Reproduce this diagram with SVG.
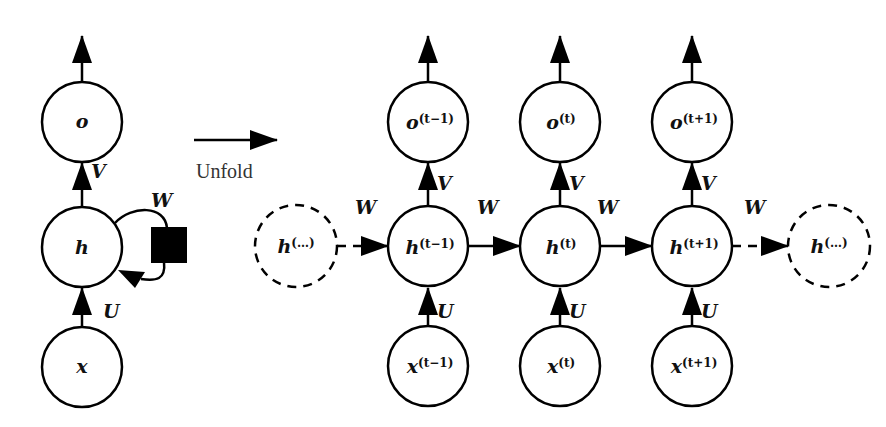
<svg xmlns="http://www.w3.org/2000/svg" width="886" height="427" viewBox="0 0 886 427">
<style>
.n{fill:#fff;stroke:#000;stroke-width:2.5}
.d{fill:#fff;stroke:#000;stroke-width:2.5;stroke-dasharray:9 7}
.c{fill:none;stroke:#000;stroke-width:2.5}
.cd{fill:none;stroke:#000;stroke-width:2.5;stroke-dasharray:9 7}
.m{font-family:"DejaVu Serif","Liberation Serif",serif;font-weight:bold;font-style:italic;font-size:19px;fill:#111;text-anchor:middle}
.s{font-family:"DejaVu Serif","Liberation Serif",serif;font-weight:bold;font-style:normal;font-size:12px}
.l{font-family:"DejaVu Serif","Liberation Serif",serif;font-weight:bold;font-style:italic;font-size:19px;fill:#111}
.u{font-family:"Liberation Serif",serif;font-size:20px;fill:#333}
</style>
<defs>
<marker id="a" markerUnits="userSpaceOnUse" markerWidth="28" markerHeight="20" viewBox="0 0 28 20" refX="27" refY="10" orient="auto">
<path d="M0,0 L28,10 L0,20 z" fill="#000"/>
</marker>
</defs>
<rect width="886" height="427" fill="#fff"/>
<g id="connectors">
<line class="c" x1="82" y1="82" x2="82" y2="36" marker-end="url(#a)"/>
<line class="c" x1="82" y1="207" x2="82" y2="163" marker-end="url(#a)"/>
<line class="c" x1="82" y1="327" x2="82" y2="288" marker-end="url(#a)"/>
<path class="c" d="M115,223 C132,205 165,205 167,228"/>
<path class="c" d="M164,262 C166,280 156,281 141,279"/>
<polygon points="118,270 145,272 135,288" fill="#000"/>
<line class="c" x1="194" y1="140" x2="277" y2="140" marker-end="url(#a)"/>
<line class="c" x1="428" y1="82" x2="428" y2="36" marker-end="url(#a)"/>
<line class="c" x1="560" y1="82" x2="560" y2="36" marker-end="url(#a)"/>
<line class="c" x1="692" y1="82" x2="692" y2="36" marker-end="url(#a)"/>
<line class="c" x1="428" y1="206" x2="428" y2="163" marker-end="url(#a)"/>
<line class="c" x1="560" y1="206" x2="560" y2="163" marker-end="url(#a)"/>
<line class="c" x1="692" y1="206" x2="692" y2="163" marker-end="url(#a)"/>
<line class="c" x1="428" y1="325" x2="428" y2="288" marker-end="url(#a)"/>
<line class="c" x1="560" y1="325" x2="560" y2="288" marker-end="url(#a)"/>
<line class="c" x1="692" y1="325" x2="692" y2="288" marker-end="url(#a)"/>
<line class="cd" x1="337" y1="246" x2="388" y2="246" marker-end="url(#a)"/>
<line class="c" x1="468" y1="246" x2="520" y2="246" marker-end="url(#a)"/>
<line class="c" x1="600" y1="246" x2="652" y2="246" marker-end="url(#a)"/>
<line class="cd" x1="732" y1="246" x2="788" y2="246" marker-end="url(#a)"/>
<text class="l" x="91" y="178">V</text>
<text class="l" x="103" y="318">U</text>
<text class="l" x="151" y="207">W</text>
<text class="u" x="196" y="178">Unfold</text>
<text class="l" x="437" y="190">V</text>
<text class="l" x="569" y="190">V</text>
<text class="l" x="701" y="190">V</text>
<text class="l" x="437" y="318">U</text>
<text class="l" x="569" y="318">U</text>
<text class="l" x="701" y="318">U</text>
<text class="l" x="355" y="214">W</text>
<text class="l" x="477" y="214">W</text>
<text class="l" x="597" y="214">W</text>
<text class="l" x="744" y="214">W</text>
<rect x="151" y="227" width="36" height="36" fill="#000"/>
</g>
<g id="o"><circle class="n" cx="82" cy="122" r="40"/><text class="m" x="82" y="128">o</text></g>
<g id="h"><circle class="n" cx="82" cy="247" r="40"/><text class="m" x="82" y="254">h</text></g>
<g id="x"><circle class="n" cx="82" cy="367" r="40"/><text class="m" x="82" y="373">x</text></g>
<g id="h_prev_dots"><circle class="d" cx="296" cy="246" r="41"/><text class="m" x="296" y="253">h<tspan class="s" dy="-6">(…)</tspan></text></g>
<g id="h_next_dots"><circle class="d" cx="829" cy="246" r="41"/><text class="m" x="829" y="253">h<tspan class="s" dy="-6">(…)</tspan></text></g>
<g id="o_tm1"><circle class="n" cx="428" cy="122" r="40"/><text class="m" x="430" y="129">o<tspan class="s" dy="-6">(t−1)</tspan></text></g>
<g id="o_t"><circle class="n" cx="560" cy="122" r="40"/><text class="m" x="561" y="129">o<tspan class="s" dy="-6">(t)</tspan></text></g>
<g id="o_tp1"><circle class="n" cx="692" cy="122" r="40"/><text class="m" x="694" y="129">o<tspan class="s" dy="-6">(t+1)</tspan></text></g>
<g id="h_tm1"><circle class="n" cx="428" cy="246" r="40"/><text class="m" x="430" y="254">h<tspan class="s" dy="-6">(t−1)</tspan></text></g>
<g id="h_t"><circle class="n" cx="560" cy="246" r="40"/><text class="m" x="561" y="254">h<tspan class="s" dy="-6">(t)</tspan></text></g>
<g id="h_tp1"><circle class="n" cx="692" cy="246" r="40"/><text class="m" x="694" y="254">h<tspan class="s" dy="-6">(t+1)</tspan></text></g>
<g id="x_tm1"><circle class="n" cx="428" cy="366" r="40"/><text class="m" x="430" y="373">x<tspan class="s" dy="-6">(t−1)</tspan></text></g>
<g id="x_t"><circle class="n" cx="560" cy="366" r="40"/><text class="m" x="561" y="373">x<tspan class="s" dy="-6">(t)</tspan></text></g>
<g id="x_tp1"><circle class="n" cx="692" cy="366" r="40"/><text class="m" x="694" y="373">x<tspan class="s" dy="-6">(t+1)</tspan></text></g>
</svg>
